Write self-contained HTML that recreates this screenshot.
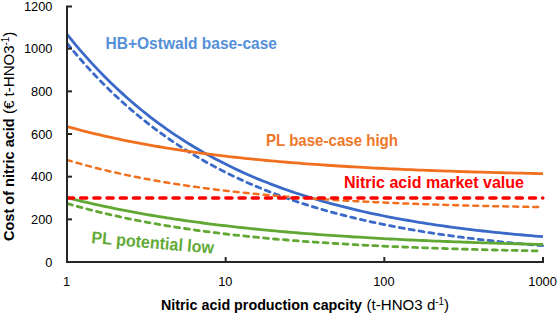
<!DOCTYPE html>
<html><head><meta charset="utf-8"><style>
html,body{margin:0;padding:0;background:#fff;width:559px;height:315px;overflow:hidden}
svg{display:block}
</style></head><body>
<svg width="559" height="315" viewBox="0 0 559 315">
<rect width="559" height="315" fill="#fff"/>
<g font-family="Liberation Sans, sans-serif" font-size="13.4" fill="#000">
<text x="45.37" y="266.75" textLength="7.13" lengthAdjust="spacingAndGlyphs">0</text>
<text x="31.11" y="224.08" textLength="21.39" lengthAdjust="spacingAndGlyphs">200</text>
<text x="31.11" y="181.42" textLength="21.39" lengthAdjust="spacingAndGlyphs">400</text>
<text x="31.11" y="138.75" textLength="21.39" lengthAdjust="spacingAndGlyphs">600</text>
<text x="31.11" y="96.08" textLength="21.39" lengthAdjust="spacingAndGlyphs">800</text>
<text x="23.98" y="53.42" textLength="28.52" lengthAdjust="spacingAndGlyphs">1000</text>
<text x="23.98" y="10.75" textLength="28.52" lengthAdjust="spacingAndGlyphs">1200</text>
</g>
<g font-family="Liberation Sans, sans-serif" font-size="13.4" fill="#000">
<text x="63.04" y="285.9" textLength="7.13" lengthAdjust="spacingAndGlyphs">1</text>
<text x="218.14" y="285.9" textLength="14.26" lengthAdjust="spacingAndGlyphs">10</text>
<text x="373.24" y="285.9" textLength="21.39" lengthAdjust="spacingAndGlyphs">100</text>
<text x="528.34" y="285.9" textLength="28.52" lengthAdjust="spacingAndGlyphs">1000</text>
</g>
<defs><clipPath id="pa"><rect x="67" y="0" width="480" height="262"/></clipPath><clipPath id="pg"><rect x="67" y="0" width="473" height="262"/></clipPath></defs>
<g clip-path="url(#pa)">
<polyline fill="none" stroke="#3A69C8" stroke-width="2.8" points="67.00,34.26 71.00,39.21 75.00,44.05 79.00,48.78 83.00,53.39 87.00,57.91 91.00,62.32 95.00,66.63 99.00,70.84 103.00,74.95 107.00,78.97 111.00,82.90 115.00,86.73 119.00,90.48 123.00,94.15 127.00,97.73 131.00,101.22 135.00,104.64 139.00,107.98 143.00,111.24 147.00,114.43 151.00,117.54 155.00,120.59 159.00,123.56 163.00,126.47 167.00,129.31 171.00,132.08 175.00,134.79 179.00,137.44 183.00,140.03 187.00,142.56 191.00,145.03 195.00,147.44 199.00,149.80 203.00,152.10 207.00,154.35 211.00,156.56 215.00,158.70 219.00,160.81 223.00,162.86 227.00,164.86 231.00,166.82 235.00,168.74 239.00,170.61 243.00,172.44 247.00,174.22 251.00,175.97 255.00,177.67 259.00,179.34 263.00,180.97 267.00,182.56 271.00,184.11 275.00,185.63 279.00,187.11 283.00,188.56 287.00,189.98 291.00,191.36 295.00,192.72 299.00,194.04 303.00,195.33 307.00,196.59 311.00,197.82 315.00,199.03 319.00,200.20 323.00,201.35 327.00,202.48 331.00,203.57 335.00,204.65 339.00,205.70 343.00,206.72 347.00,207.72 351.00,208.70 355.00,209.65 359.00,210.59 363.00,211.50 367.00,212.39 371.00,213.26 375.00,214.11 379.00,214.94 383.00,215.75 387.00,216.55 391.00,217.32 395.00,218.08 399.00,218.82 403.00,219.54 407.00,220.25 411.00,220.94 415.00,221.62 419.00,222.28 423.00,222.92 427.00,223.55 431.00,224.16 435.00,224.77 439.00,225.35 443.00,225.93 447.00,226.49 451.00,227.04 455.00,227.57 459.00,228.09 463.00,228.60 467.00,229.10 471.00,229.59 475.00,230.07 479.00,230.53 483.00,230.99 487.00,231.43 491.00,231.87 495.00,232.29 499.00,232.71 503.00,233.11 507.00,233.51 511.00,233.89 515.00,234.27 519.00,234.64 523.00,235.00 527.00,235.36 531.00,235.70 535.00,236.04 539.00,236.37 543.00,236.69"/>
<polyline fill="none" stroke="#3A69C8" stroke-width="2.8" stroke-dasharray="5.0,4.96" stroke-dashoffset="-0.65" stroke-linecap="round" points="67.00,43.23 71.00,48.13 75.00,52.91 79.00,57.58 83.00,62.15 87.00,66.62 91.00,70.99 95.00,75.25 99.00,79.42 103.00,83.50 107.00,87.49 111.00,91.38 115.00,95.19 119.00,98.91 123.00,102.54 127.00,106.10 131.00,109.57 135.00,112.97 139.00,116.29 143.00,119.53 147.00,122.71 151.00,125.80 155.00,128.83 159.00,131.80 163.00,134.69 167.00,137.52 171.00,140.29 175.00,142.99 179.00,145.63 183.00,148.21 187.00,150.74 191.00,153.20 195.00,155.61 199.00,157.97 203.00,160.28 207.00,162.53 211.00,164.73 215.00,166.88 219.00,168.98 223.00,171.04 227.00,173.05 231.00,175.01 235.00,176.93 239.00,178.81 243.00,180.64 247.00,182.43 251.00,184.18 255.00,185.89 259.00,187.57 263.00,189.20 267.00,190.80 271.00,192.37 275.00,193.89 279.00,195.39 283.00,196.85 287.00,198.27 291.00,199.67 295.00,201.03 299.00,202.36 303.00,203.66 307.00,204.94 311.00,206.18 315.00,207.39 319.00,208.58 323.00,209.74 327.00,210.88 331.00,211.99 335.00,213.07 339.00,214.13 343.00,215.17 347.00,216.18 351.00,217.17 355.00,218.14 359.00,219.09 363.00,220.01 367.00,220.91 371.00,221.80 375.00,222.66 379.00,223.50 383.00,224.33 387.00,225.14 391.00,225.92 395.00,226.69 399.00,227.45 403.00,228.18 407.00,228.90 411.00,229.60 415.00,230.29 419.00,230.96 423.00,231.62 427.00,232.26 431.00,232.89 435.00,233.50 439.00,234.10 443.00,234.69 447.00,235.26 451.00,235.82 455.00,236.36 459.00,236.90 463.00,237.42 467.00,237.93 471.00,238.43 475.00,238.92 479.00,239.39 483.00,239.86 487.00,240.32 491.00,240.76 495.00,241.20 499.00,241.62 503.00,242.04 507.00,242.44 511.00,242.84 515.00,243.23 519.00,243.61 523.00,243.98 527.00,244.34 531.00,244.70 535.00,245.04 539.00,245.38 543.00,245.71"/>
<polyline fill="none" stroke="#F07020" stroke-width="2.8" points="67.00,126.48 71.00,127.59 75.00,128.68 79.00,129.74 83.00,130.79 87.00,131.80 91.00,132.80 95.00,133.77 99.00,134.73 103.00,135.66 107.00,136.57 111.00,137.46 115.00,138.33 119.00,139.19 123.00,140.02 127.00,140.84 131.00,141.63 135.00,142.41 139.00,143.18 143.00,143.92 147.00,144.65 151.00,145.37 155.00,146.07 159.00,146.75 163.00,147.42 167.00,148.07 171.00,148.71 175.00,149.34 179.00,149.95 183.00,150.55 187.00,151.13 191.00,151.71 195.00,152.27 199.00,152.82 203.00,153.35 207.00,153.88 211.00,154.39 215.00,154.89 219.00,155.38 223.00,155.86 227.00,156.33 231.00,156.79 235.00,157.24 239.00,157.68 243.00,158.10 247.00,158.52 251.00,158.94 255.00,159.34 259.00,159.73 263.00,160.11 267.00,160.49 271.00,160.86 275.00,161.22 279.00,161.57 283.00,161.91 287.00,162.25 291.00,162.58 295.00,162.90 299.00,163.22 303.00,163.53 307.00,163.83 311.00,164.12 315.00,164.41 319.00,164.69 323.00,164.97 327.00,165.24 331.00,165.50 335.00,165.76 339.00,166.01 343.00,166.26 347.00,166.50 351.00,166.74 355.00,166.97 359.00,167.19 363.00,167.41 367.00,167.63 371.00,167.84 375.00,168.05 379.00,168.25 383.00,168.45 387.00,168.64 391.00,168.83 395.00,169.02 399.00,169.20 403.00,169.38 407.00,169.55 411.00,169.72 415.00,169.88 419.00,170.05 423.00,170.20 427.00,170.36 431.00,170.51 435.00,170.66 439.00,170.80 443.00,170.95 447.00,171.09 451.00,171.22 455.00,171.35 459.00,171.48 463.00,171.61 467.00,171.74 471.00,171.86 475.00,171.98 479.00,172.09 483.00,172.21 487.00,172.32 491.00,172.43 495.00,172.53 499.00,172.64 503.00,172.74 507.00,172.84 511.00,172.94 515.00,173.03 519.00,173.12 523.00,173.22 527.00,173.30 531.00,173.39 535.00,173.48 539.00,173.56 543.00,173.64"/>
<polyline fill="none" stroke="#F07020" stroke-width="2.5" stroke-dasharray="4.85,5.15" stroke-dashoffset="0" stroke-linecap="round" points="67.00,159.93 71.00,161.12 75.00,162.29 79.00,163.42 83.00,164.53 87.00,165.61 91.00,166.67 95.00,167.70 99.00,168.71 103.00,169.69 107.00,170.65 111.00,171.59 115.00,172.50 119.00,173.39 123.00,174.27 127.00,175.12 131.00,175.95 135.00,176.76 139.00,177.55 143.00,178.32 147.00,179.07 151.00,179.81 155.00,180.53 159.00,181.23 163.00,181.91 167.00,182.58 171.00,183.23 175.00,183.87 179.00,184.49 183.00,185.10 187.00,185.69 191.00,186.27 195.00,186.83 199.00,187.39 203.00,187.92 207.00,188.45 211.00,188.96 215.00,189.46 219.00,189.95 223.00,190.43 227.00,190.89 231.00,191.35 235.00,191.79 239.00,192.22 243.00,192.65 247.00,193.06 251.00,193.46 255.00,193.86 259.00,194.24 263.00,194.61 267.00,194.98 271.00,195.34 275.00,195.69 279.00,196.03 283.00,196.36 287.00,196.68 291.00,197.00 295.00,197.31 299.00,197.61 303.00,197.90 307.00,198.19 311.00,198.47 315.00,198.75 319.00,199.01 323.00,199.28 327.00,199.53 331.00,199.78 335.00,200.02 339.00,200.26 343.00,200.49 347.00,200.72 351.00,200.94 355.00,201.15 359.00,201.36 363.00,201.57 367.00,201.77 371.00,201.96 375.00,202.15 379.00,202.34 383.00,202.52 387.00,202.70 391.00,202.87 395.00,203.04 399.00,203.21 403.00,203.37 407.00,203.53 411.00,203.68 415.00,203.83 419.00,203.98 423.00,204.12 427.00,204.26 431.00,204.40 435.00,204.53 439.00,204.66 443.00,204.78 447.00,204.91 451.00,205.03 455.00,205.15 459.00,205.26 463.00,205.37 467.00,205.48 471.00,205.59 475.00,205.70 479.00,205.80 483.00,205.90 487.00,205.99 491.00,206.09 495.00,206.18 499.00,206.27 503.00,206.36 507.00,206.45 511.00,206.53 515.00,206.61 519.00,206.69 523.00,206.77 527.00,206.85 531.00,206.92 535.00,206.99 539.00,207.07 543.00,207.14"/>
<polyline fill="none" stroke="#60A833" stroke-width="2.8" points="67.00,197.57 71.00,198.59 75.00,199.59 79.00,200.57 83.00,201.53 87.00,202.47 91.00,203.40 95.00,204.30 99.00,205.19 103.00,206.06 107.00,206.91 111.00,207.74 115.00,208.56 119.00,209.37 123.00,210.15 127.00,210.92 131.00,211.68 135.00,212.42 139.00,213.15 143.00,213.86 147.00,214.56 151.00,215.25 155.00,215.92 159.00,216.57 163.00,217.22 167.00,217.85 171.00,218.47 175.00,219.08 179.00,219.68 183.00,220.26 187.00,220.83 191.00,221.39 195.00,221.94 199.00,222.48 203.00,223.01 207.00,223.53 211.00,224.04 215.00,224.54 219.00,225.03 223.00,225.50 227.00,225.97 231.00,226.43 235.00,226.89 239.00,227.33 243.00,227.76 247.00,228.19 251.00,228.60 255.00,229.01 259.00,229.41 263.00,229.80 267.00,230.19 271.00,230.57 275.00,230.94 279.00,231.30 283.00,231.65 287.00,232.00 291.00,232.34 295.00,232.68 299.00,233.01 303.00,233.33 307.00,233.64 311.00,233.95 315.00,234.26 319.00,234.55 323.00,234.84 327.00,235.13 331.00,235.41 335.00,235.68 339.00,235.95 343.00,236.22 347.00,236.47 351.00,236.73 355.00,236.98 359.00,237.22 363.00,237.46 367.00,237.69 371.00,237.92 375.00,238.15 379.00,238.37 383.00,238.58 387.00,238.80 391.00,239.00 395.00,239.21 399.00,239.41 403.00,239.60 407.00,239.79 411.00,239.98 415.00,240.17 419.00,240.35 423.00,240.52 427.00,240.70 431.00,240.87 435.00,241.04 439.00,241.20 443.00,241.36 447.00,241.52 451.00,241.67 455.00,241.82 459.00,241.97 463.00,242.12 467.00,242.26 471.00,242.40 475.00,242.53 479.00,242.67 483.00,242.80 487.00,242.93 491.00,243.06 495.00,243.18 499.00,243.30 503.00,243.42 507.00,243.54 511.00,243.65 515.00,243.76 519.00,243.87 523.00,243.98 527.00,244.09 531.00,244.19 535.00,244.29 539.00,244.39 543.00,244.49"/>
<g clip-path="url(#pg)"><polyline fill="none" stroke="#60A833" stroke-width="2.8" stroke-dasharray="4.9,5.06" stroke-dashoffset="-0.7" stroke-linecap="round" points="67.00,203.44 71.00,204.60 75.00,205.74 79.00,206.85 83.00,207.93 87.00,208.99 91.00,210.03 95.00,211.04 99.00,212.03 103.00,212.99 107.00,213.93 111.00,214.86 115.00,215.76 119.00,216.64 123.00,217.50 127.00,218.34 131.00,219.16 135.00,219.96 139.00,220.75 143.00,221.51 147.00,222.26 151.00,222.99 155.00,223.71 159.00,224.41 163.00,225.09 167.00,225.76 171.00,226.41 175.00,227.04 179.00,227.67 183.00,228.28 187.00,228.87 191.00,229.45 195.00,230.02 199.00,230.57 203.00,231.11 207.00,231.64 211.00,232.16 215.00,232.67 219.00,233.16 223.00,233.64 227.00,234.11 231.00,234.57 235.00,235.02 239.00,235.46 243.00,235.89 247.00,236.31 251.00,236.73 255.00,237.13 259.00,237.52 263.00,237.90 267.00,238.28 271.00,238.64 275.00,239.00 279.00,239.35 283.00,239.69 287.00,240.02 291.00,240.35 295.00,240.67 299.00,240.98 303.00,241.28 307.00,241.58 311.00,241.87 315.00,242.15 319.00,242.43 323.00,242.70 327.00,242.96 331.00,243.22 335.00,243.48 339.00,243.72 343.00,243.96 347.00,244.20 351.00,244.43 355.00,244.65 359.00,244.87 363.00,245.09 367.00,245.30 371.00,245.50 375.00,245.71 379.00,245.90 383.00,246.09 387.00,246.28 391.00,246.46 395.00,246.64 399.00,246.82 403.00,246.99 407.00,247.15 411.00,247.32 415.00,247.47 419.00,247.63 423.00,247.78 427.00,247.93 431.00,248.08 435.00,248.22 439.00,248.36 443.00,248.49 447.00,248.62 451.00,248.75 455.00,248.88 459.00,249.00 463.00,249.12 467.00,249.24 471.00,249.36 475.00,249.47 479.00,249.58 483.00,249.69 487.00,249.79 491.00,249.89 495.00,249.99 499.00,250.09 503.00,250.19 507.00,250.28 511.00,250.37 515.00,250.46 519.00,250.55 523.00,250.63 527.00,250.72 531.00,250.80 535.00,250.88 539.00,250.96 543.00,251.03"/></g>
<path d="M67.5,198 H542.8" stroke="#FF0000" stroke-width="3.6" stroke-dasharray="6,7.2" stroke-linecap="round" fill="none"/>
</g>
<g stroke="#262626" stroke-width="2" fill="none">
<path d="M72,6.4 H67 V262 H543 V257"/>
<path d="M67,219.33 H72"/>
<path d="M67,176.67 H72"/>
<path d="M67,134.00 H72"/>
<path d="M67,91.33 H72"/>
<path d="M67,48.67 H72"/>
<path d="M225.67,262 V257"/>
<path d="M384.33,262 V257"/>
</g>
<text font-family="Liberation Sans, sans-serif" font-weight="bold" font-size="17.3" fill="#5590D8" x="105.5" y="48.5" textLength="171.5" lengthAdjust="spacingAndGlyphs">HB+Ostwald base-case</text>
<text font-family="Liberation Sans, sans-serif" font-weight="bold" font-size="17.3" fill="#EE782A" x="266" y="145.8" textLength="132" lengthAdjust="spacingAndGlyphs">PL base-case high</text>
<text font-family="Liberation Sans, sans-serif" font-weight="bold" font-size="17.3" fill="#FF0000" x="344" y="188" textLength="180" lengthAdjust="spacingAndGlyphs">Nitric acid market value</text>
<text font-family="Liberation Sans, sans-serif" font-weight="bold" font-size="17.3" fill="#62AA38" transform="translate(91.1,243.2) rotate(4.9)" x="0" y="0" textLength="122.8" lengthAdjust="spacingAndGlyphs">PL potential low</text>
<text font-family="Liberation Sans, sans-serif" font-size="15.5" font-weight="bold" fill="#000" x="161" y="310.3" textLength="201" lengthAdjust="spacingAndGlyphs">Nitric acid production capcity</text>
<text font-family="Liberation Sans, sans-serif" font-size="15.5" fill="#000" x="366.5" y="310.3" textLength="82.5" lengthAdjust="spacingAndGlyphs">(t-HNO3 d<tspan font-size="10" dy="-5">-1</tspan><tspan dy="5">)</tspan></text>
<g transform="translate(14,0) rotate(-90)">
<text font-family="Liberation Sans, sans-serif" font-size="15.5" font-weight="bold" fill="#000" x="-241" y="0" textLength="122.7" lengthAdjust="spacingAndGlyphs">Cost of nitric acid</text>
<text font-family="Liberation Sans, sans-serif" font-size="15.5" fill="#000" x="-114" y="0" textLength="82.3" lengthAdjust="spacingAndGlyphs">(€ t-HNO3<tspan font-size="10" dy="-5">-1</tspan><tspan dy="5">)</tspan></text>
</g>
</svg>
</body></html>
